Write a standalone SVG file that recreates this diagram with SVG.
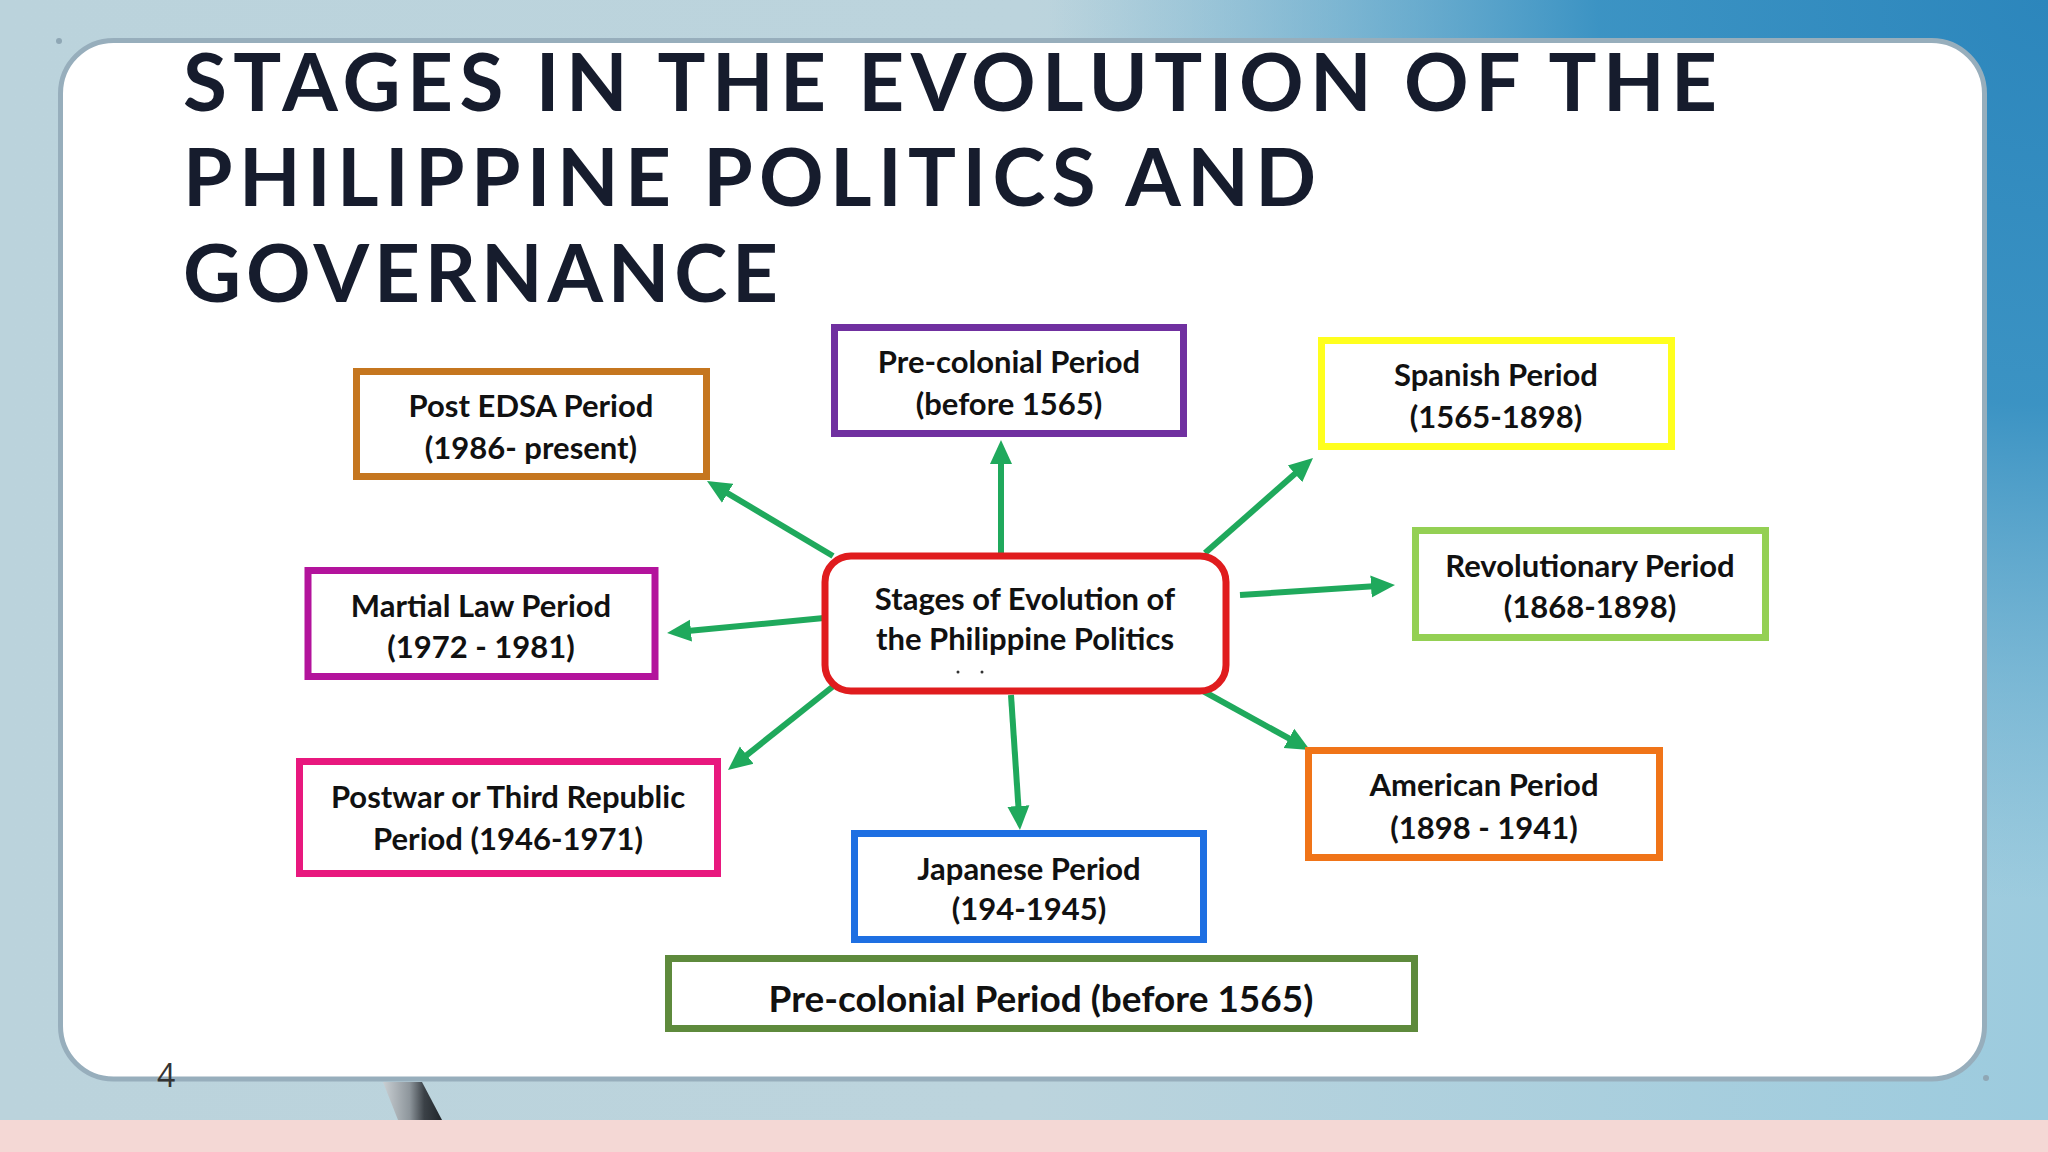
<svg xmlns="http://www.w3.org/2000/svg" width="2048" height="1152" viewBox="0 0 2048 1152">
<defs>
<linearGradient id="bgBase" x1="0" y1="0" x2="1" y2="0">
<stop offset="0" stop-color="#BBD3DC"/>
<stop offset="0.5" stop-color="#BCD4DD"/>
<stop offset="1" stop-color="#9CCBDE"/>
</linearGradient>
<radialGradient id="bgBlue" cx="2048" cy="0" r="1000" gradientUnits="userSpaceOnUse" gradientTransform="translate(2048 0) scale(1 0.9) translate(-2048 0)">
<stop offset="0" stop-color="#2C86BC" stop-opacity="1"/>
<stop offset="0.45" stop-color="#3690C2" stop-opacity="0.95"/>
<stop offset="1" stop-color="#5AA6CC" stop-opacity="0"/>
</radialGradient>
<linearGradient id="pole" x1="0" y1="0" x2="1" y2="0">
<stop offset="0" stop-color="#C9CFD3"/>
<stop offset="0.45" stop-color="#8E969C"/>
<stop offset="0.7" stop-color="#3B4147"/>
<stop offset="1" stop-color="#20252A"/>
</linearGradient>
<marker id="ah" markerUnits="userSpaceOnUse" markerWidth="24" markerHeight="24" refX="14" refY="12" orient="auto">
<path d="M0,1 L24,12 L0,23 z" fill="#1FA95C"/>
</marker>
<style>
.title{font-family:Lato,"Open Sans","Liberation Sans",sans-serif;font-weight:700;font-size:80px;fill:#161C2D}
.box{fill:#FFFFFF;stroke-width:7}
.lbl{font-family:Lato,"Liberation Sans",sans-serif;font-weight:700;font-size:31px;fill:#111111;text-anchor:middle}
.big{font-size:37px}
.conn line{stroke:#1FA95C;stroke-width:6;marker-end:url(#ah)}
</style>
</defs>

<!-- background -->
<rect x="0" y="0" width="2048" height="1152" fill="url(#bgBase)"/>
<rect x="0" y="0" width="2048" height="1120" fill="url(#bgBlue)"/>
<polygon points="383,1082 422,1082 442,1120 398,1120" fill="url(#pole)"/>
<rect x="0" y="1120" width="2048" height="32" fill="#F4D8D5"/>
<circle cx="59" cy="41" r="3" fill="#8FA7B5"/>
<circle cx="1986" cy="1078" r="3" fill="#8FA7B5"/>

<!-- card -->
<rect x="60.5" y="40.5" width="1924" height="1038.5" rx="53" ry="53" fill="#FFFFFF" stroke="#97AEBC" stroke-width="5"/>

<!-- title -->
<g id="title">
<text class="title" x="183" y="111" textLength="1534" lengthAdjust="spacing">STAGES IN THE EVOLUTION OF THE</text>
<text class="title" x="183" y="206" textLength="1133" lengthAdjust="spacing">PHILIPPINE POLITICS AND</text>
<text class="title" x="183" y="302" textLength="595" lengthAdjust="spacing">GOVERNANCE</text>
</g>

<!-- connectors -->
<g id="connectors" class="conn">
<line x1="833" y1="556" x2="715.6" y2="486.1"/>
<line x1="1001" y1="557" x2="1001" y2="450"/>
<line x1="824" y1="618" x2="677" y2="632"/>
<line x1="1205" y1="553" x2="1305.5" y2="464.6"/>
<line x1="1240" y1="595" x2="1385" y2="585.6"/>
<line x1="1183" y1="680" x2="1301.2" y2="745.2"/>
<line x1="1011" y1="695" x2="1019.3" y2="820"/>
<line x1="836" y1="684" x2="735.8" y2="763.8"/>
</g>

<!-- nodes -->
<g id="center">
<rect class="box" x="825" y="556" width="401" height="135" rx="26" ry="26" stroke="#E01C1E" stroke-width="9"/>
<text class="lbl" x="1025" y="610">Stages of Evolution of</text>
<text class="lbl" x="1025" y="650">the Philippine Politics</text>
<circle cx="958" cy="672" r="1.5" fill="#333"/>
<circle cx="982" cy="672" r="1.5" fill="#333"/>
</g>

<g id="post-edsa">
<rect class="box" x="356.5" y="371.5" width="350" height="105" stroke="#C5761F"/>
<text class="lbl" x="531" y="417">Post EDSA Period</text>
<text class="lbl" x="531" y="459">(1986- present)</text>
</g>

<g id="pre-colonial">
<rect class="box" x="834.5" y="327.5" width="349" height="106" stroke="#7030A0"/>
<text class="lbl" x="1009" y="373">Pre-colonial Period</text>
<text class="lbl" x="1009" y="415">(before 1565)</text>
</g>

<g id="spanish">
<rect class="box" x="1321.5" y="340.5" width="350" height="106" stroke="#FFFF1E"/>
<text class="lbl" x="1496" y="386">Spanish Period</text>
<text class="lbl" x="1496" y="428">(1565-1898)</text>
</g>

<g id="revolutionary">
<rect class="box" x="1415.5" y="530.5" width="350" height="107" stroke="#94D054"/>
<text class="lbl" x="1590" y="577">Revolutionary Period</text>
<text class="lbl" x="1590" y="618">(1868-1898)</text>
</g>

<g id="martial-law">
<rect class="box" x="308" y="570.5" width="347" height="106" stroke="#B3139C"/>
<text class="lbl" x="481" y="617">Martial Law Period</text>
<text class="lbl" x="481" y="658">(1972 - 1981)</text>
</g>

<g id="postwar">
<rect class="box" x="299.5" y="761.5" width="418" height="112" stroke="#E8187E"/>
<text class="lbl" x="508" y="808">Postwar or Third Republic</text>
<text class="lbl" x="508" y="850">Period (1946-1971)</text>
</g>

<g id="japanese">
<rect class="box" x="854.5" y="833.5" width="349" height="106" stroke="#1E6FE2"/>
<text class="lbl" x="1029" y="880">Japanese Period</text>
<text class="lbl" x="1029" y="920">(194-1945)</text>
</g>

<g id="american">
<rect class="box" x="1308.5" y="750.5" width="351" height="107" stroke="#F07418"/>
<text class="lbl" x="1484" y="796">American Period</text>
<text class="lbl" x="1484" y="839">(1898 - 1941)</text>
</g>

<g id="bottom">
<rect class="box" x="668.5" y="958.5" width="746" height="70" stroke="#5E8A3C" stroke-width="9"/>
<text class="lbl big" x="1041" y="1012">Pre-colonial Period (before 1565)</text>
</g>

<text x="157" y="1087" font-family="Open Sans, Liberation Sans, sans-serif" font-size="32" fill="#333333">4</text>
</svg>
